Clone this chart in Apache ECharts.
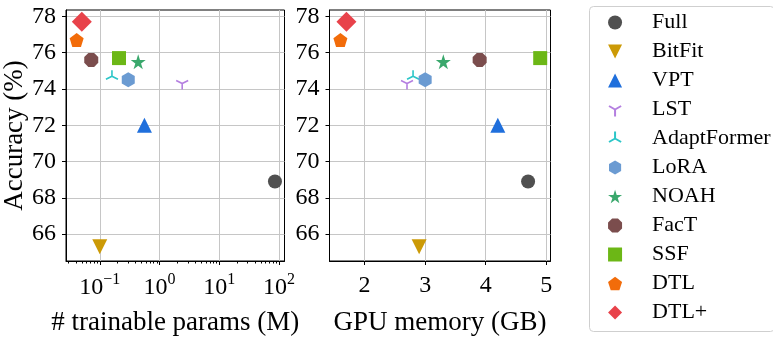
<!DOCTYPE html>
<html>
<head>
<meta charset="utf-8">
<script src="https://cdn.jsdelivr.net/npm/echarts@6/dist/echarts.min.js"></script>
<style>
  html, body { margin: 0; padding: 0; background: #fff; }
  .graphe { width: 773px; height: 341px; }
</style>
</head>
<body>
<div class="graphe"></div>
<script>
// données
var methods = ['Full', 'BitFit', 'VPT', 'LST', 'AdaptFormer', 'LoRA', 'NOAH', 'FacT', 'SSF', 'DTL', 'DTL+'];
var params = [85.8, 0.10, 0.56, 2.4, 0.16, 0.30, 0.44, 0.072, 0.21, 0.041, 0.050];   // M
var memory = [4.7, 2.9, 4.2, 2.7, 2.8, 3.0, 3.3, 3.9, 4.9, 1.6, 1.7];               // GB
var accuracy = [68.9, 65.3, 72.0, 74.3, 74.7, 74.5, 75.5, 75.6, 75.7, 76.7, 77.7];   // %

var accTicks = [66, 68, 70, 72, 74, 76, 78];
var paramTicks = [0.1, 1, 10, 100];
var memTicks = [2, 3, 4, 5];

var colors = ['#505050', '#cc9a06', '#1f6fdc', '#b47fe0', '#2cc6c8', '#6b9bd2', '#3aa86c', '#7b4d4d', '#6cb716', '#f26c0a', '#e8424a'];

var tri_down = 'path://M0,-1M0,0L0,1M0,0L-0.866,-0.5M0,0L0.866,-0.5';
var tri_up = 'path://M0,1M0,0L0,-1M0,0L-0.866,0.5M0,0L0.866,0.5';
var symbols = [
    'circle',
    'path://M-1,-1L1,-1L0,1Z',
    'path://M0,-1L1,1L-1,1Z',
    tri_down,
    tri_up,
    'path://M0,-1L0.866,-0.5L0.866,0.5L0,1L-0.866,0.5L-0.866,-0.5Z',
    'path://M0,-1L0.224,-0.309L0.951,-0.309L0.363,0.118L0.588,0.809L0,0.382L-0.588,0.809L-0.363,0.118L-0.951,-0.309L-0.224,-0.309Z',
    'path://M-0.383,-0.924L0.383,-0.924L0.924,-0.383L0.924,0.383L0.383,0.924L-0.383,0.924L-0.924,0.383L-0.924,-0.383Z',
    'path://M-1,-1L1,-1L1,1L-1,1Z',
    'path://M0,-1L0.951,-0.309L0.588,0.809L-0.588,0.809L-0.951,-0.309Z',
    'path://M0,-1L1,0L0,1L-1,0Z'
];
var sizes = [14, 15, 15, 12, 12, [13, 15], 15, 14, 14, 14, 20];

// petites graduations du log (0.03..0.09, 0.2..0.9, 2..9, 20..90)
var minorTicks = [];
[0.01, 0.1, 1, 10].forEach(function (d) {
    for (var k = 2; k <= 9; k++) minorTicks.push(+(k * d).toPrecision(3));
});

var FONT = "'Liberation Serif', 'Times New Roman', serif";

var dom = document.querySelector('.graphe');
var myChart = echarts.init(dom, null, { renderer: 'canvas' });

function yAxisFor(grid, name) {
    return {
        type: 'value',
        gridIndex: grid,
        min: 64.52,
        max: 78.35,
        name: name,
        nameLocation: 'middle',
        nameGap: 38,
        nameTextStyle: { fontFamily: FONT, fontSize: 27, color: '#000' },
        axisLine: { show: true, lineStyle: { color: '#000', width: 1 } },
        axisTick: { show: true, length: 4, customValues: accTicks, lineStyle: { color: '#000' } },
        axisLabel: { customValues: accTicks, margin: 10, fontFamily: FONT, fontSize: 24, color: '#000' },
        splitLine: { show: true, lineStyle: { color: '#c6c6c6', width: 1 } }
    };
}

var series = [];
methods.forEach(function (m, i) {
    var common = {
        name: m,
        type: 'scatter',
        symbol: symbols[i],
        symbolSize: sizes[i],
        z: 3,
        itemStyle: (symbols[i] === tri_down || symbols[i] === tri_up)
            ? { color: 'rgba(0,0,0,0)', borderColor: colors[i], borderWidth: 1.6, opacity: 1 }
            : { color: colors[i], opacity: 1 }
    };
    series.push(Object.assign({}, common, {
        xAxisIndex: 0, yAxisIndex: 0,
        data: [[params[i], accuracy[i]]]
    }));
    series.push(Object.assign({}, common, {
        xAxisIndex: 2, yAxisIndex: 1,
        data: [[memory[i], accuracy[i]]]
    }));
});

const option = {
    animation: false,
    textStyle: { fontFamily: FONT },
    grid: [
        { left: 65, top: 10, width: 219.5, height: 257.5, show: true, borderColor: '#000', borderWidth: 1, containLabel: false },
        { left: 329.5, top: 10, width: 221, height: 257.5, show: true, borderColor: '#000', borderWidth: 1, containLabel: false }
    ],
    xAxis: [
        {
            type: 'log',
            logBase: 10,
            gridIndex: 0,
            min: 0.0272,
            max: 124,
            name: '# trainable params (M)',
            nameLocation: 'middle',
            nameGap: 48,
            nameTextStyle: { fontFamily: FONT, fontSize: 27, color: '#000' },
            axisLine: { show: true, lineStyle: { color: '#000', width: 1 } },
            axisTick: { show: true, length: 4, customValues: paramTicks, lineStyle: { color: '#000' } },
            axisLabel: {
                customValues: paramTicks,
                margin: 11,
                formatter: function (v) {
                    var e = Math.round(Math.log10(v));
                    return '{b|10}{e|' + (e < 0 ? '\u2212' + (-e) : e) + '}';
                },
                rich: {
                    b: { fontFamily: FONT, fontSize: 24, lineHeight: 24, color: '#000', padding: [8, 0, 0, 0] },
                    e: { fontFamily: FONT, fontSize: 16, lineHeight: 16, color: '#000', verticalAlign: 'top' }
                }
            },
            splitLine: { show: true, lineStyle: { color: '#c6c6c6', width: 1 } }
        },
        {
            // graduations mineures seules
            type: 'log',
            logBase: 10,
            gridIndex: 0,
            position: 'bottom',
            min: 0.0272,
            max: 124,
            axisLine: { show: false },
            axisTick: { show: true, length: 2.5, customValues: minorTicks, lineStyle: { color: '#000' } },
            axisLabel: { show: false },
            splitLine: { show: false }
        },
        {
            type: 'value',
            gridIndex: 1,
            min: 1.42,
            max: 5.07,
            name: 'GPU memory (GB)',
            nameLocation: 'middle',
            nameGap: 48,
            nameTextStyle: { fontFamily: FONT, fontSize: 27, color: '#000' },
            axisLine: { show: true, lineStyle: { color: '#000', width: 1 } },
            axisTick: { show: true, length: 4, customValues: memTicks, lineStyle: { color: '#000' } },
            axisLabel: { customValues: memTicks, margin: 13, fontFamily: FONT, fontSize: 24, color: '#000' },
            splitLine: { show: true, lineStyle: { color: '#c6c6c6', width: 1 } }
        }
    ],
    yAxis: [yAxisFor(0, 'Accuracy (%)'), yAxisFor(1, '')],
    legend: {
        orient: 'vertical',
        left: 608,
        top: 11.5,
        padding: 0,
        itemWidth: 14,
        itemHeight: 14,
        itemGap: 7,
        symbolKeepAspect: true,
        data: methods,
        textStyle: { fontFamily: FONT, fontSize: 22, color: '#000', padding: [0, 0, 0, 25] }
    },
    graphic: [{
        type: 'rect',
        left: 587,
        top: 4,
        shape: { width: 185, height: 325, r: 4 },
        style: { fill: 'none', stroke: '#cfcfcf', lineWidth: 1 },
        z: -1
    }],
    series: series
};

if (option && typeof option === 'object') {
    myChart.setOption(option);
}

window.addEventListener('resize', myChart.resize);
</script>
</body>
</html>
